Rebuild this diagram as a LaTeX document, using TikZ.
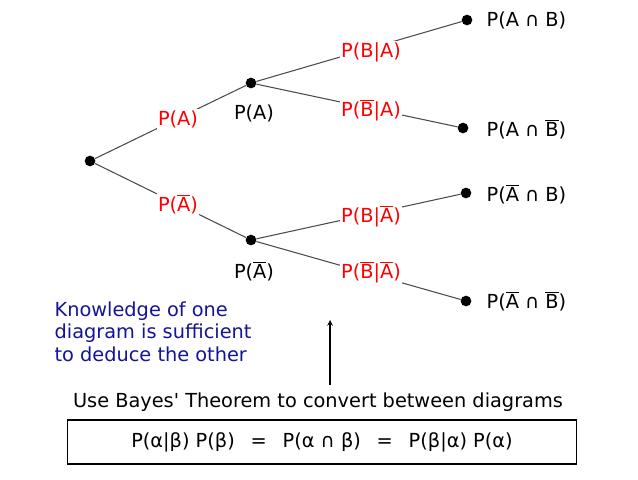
\documentclass[tikz,border=0pt]{standalone}
\usepackage{fontspec}
\setmainfont{DejaVu Sans}[Ligatures=TeXOff]
\newcommand{\ob}[1]{$\overline{\mbox{#1}}$}
\begin{document}
\begin{tikzpicture}[x=0.75pt,y=-0.75pt,
  dot/.style={circle,fill=black,inner sep=0pt,minimum size=8pt},
  el/.style={text=red,fill=white,font=\fontsize{14.5}{17}\selectfont,inner sep=1pt},
  tl/.style={font=\fontsize{14.5}{17}\selectfont,inner sep=1pt},
  br/.style={draw=black!70,line width=0.8pt}]
\useasboundingbox (0,0) rectangle (638,479);
\node[dot] (r) at (90,161) {};
\node[dot] (a) at (251,83) {};
\node[dot] (na) at (251,240) {};
\node[dot] (l1) at (467,20) {};
\node[dot] (l2) at (463,128) {};
\node[dot] (l3) at (466,193) {};
\node[dot] (l4) at (466,301) {};
\draw[br] (r) -- (a); \draw[br] (r) -- (na);
\draw[br] (a) -- (l1); \draw[br] (a) -- (l2);
\draw[br] (na) -- (l3); \draw[br] (na) -- (l4);
\node[tl,anchor=west] (t1) at (485,20) {P(A ∩ B)};
\node[tl,anchor=west] (t2) at (485,129) {P(A ∩ \ob{B})};
\node[tl,anchor=west] (t3) at (485,194) {P(\ob{A} ∩ B)};
\node[tl,anchor=west] (t4) at (485,301) {P(\ob{A} ∩ \ob{B})};
\node[el] (e1) at (178,119) {P(A)};
\node[el] (e2) at (178,204) {P(\ob{A})};
\node[el] (e3) at (371,52) {P(B|A)};
\node[el] (e4) at (371,110) {P(\ob{B}|A)};
\node[el] (e5) at (371,216) {P(B|\ob{A})};
\node[el] (e6) at (371,272) {P(\ob{B}|\ob{A})};
\node[tl] (n1) at (254,113) {P(A)};
\node[tl] (n2) at (254,271) {P(\ob{A})};
\node[tl,text={rgb,255:red,20;green,20;blue,150},align=left,anchor=north west] (k) at (53,300) {Knowledge of one\\diagram is sufficient\\to deduce the other};
\coordinate (ab) at (330,385);
\coordinate (at) at (330,320);
\draw[-stealth,line width=0.9pt] (ab) -- (at);
\node[tl] (u) at (318,402) {Use Bayes' Theorem to convert between diagrams};
\node[tl,draw,line width=1pt,minimum width=382pt,minimum height=33pt,inner sep=4pt] (f) at (322,442)
  {P(α|β) P(β) \enspace = \enspace P(α ∩ β) \enspace = \enspace P(β|α) P(α)};
\end{tikzpicture}
\end{document}
